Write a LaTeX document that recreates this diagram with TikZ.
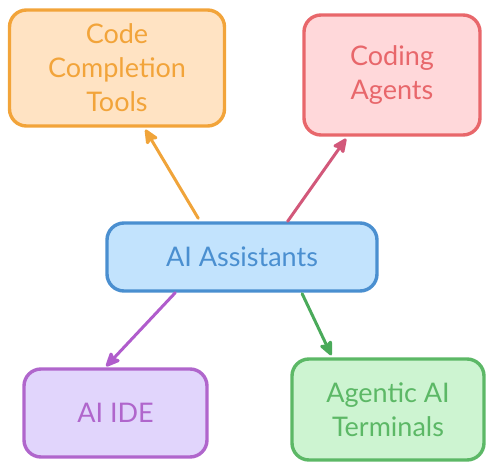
\documentclass[tikz,border=0pt]{standalone}
\usepackage{fontspec}
\setmainfont{Lato}
\usetikzlibrary{arrows.meta,calc}
\definecolor{orS}{HTML}{F2A43A}\definecolor{orF}{HTML}{FFE3C3}
\definecolor{rdS}{HTML}{E8676B}\definecolor{rdF}{HTML}{FFD8DA}
\definecolor{blS}{HTML}{4A8FD0}\definecolor{blF}{HTML}{C2E3FD}
\definecolor{puS}{HTML}{B066CC}\definecolor{puF}{HTML}{E1D5FC}
\definecolor{grS}{HTML}{5CB866}\definecolor{grF}{HTML}{CDF4D1}
\definecolor{orA}{HTML}{F0A43A}\definecolor{rdA}{HTML}{D2587A}
\definecolor{puA}{HTML}{B05CCC}\definecolor{grA}{HTML}{4AAA5A}
\tikzset{
  box/.style={draw, line width=3.4pt, rounded corners=17pt, align=center,
    inner sep=0pt, font=\fontsize{27}{34}\selectfont, text=#1S, draw=#1S, fill=#1F},
  conn/.style={line width=3pt, draw=#1, line cap=round,
    -{Stealth[length=17pt,width=15pt,inset=3pt,round]}, #1}
}
\begin{document}
\begin{tikzpicture}[x=1pt,y=-1pt]
\useasboundingbox (0,0) rectangle (492,470);
\node[box=or, minimum width=215pt, minimum height=116pt] (cct) at (117,68) {Code\\Completion\\Tools};
\node[box=rd, minimum width=176pt, minimum height=120pt] (ca) at (392,75) {Coding\\Agents};
\node[box=bl, minimum width=270pt, minimum height=68pt] (aia) at (242,257) {AI Assistants};
\node[box=pu, minimum width=183pt, minimum height=88pt] (ide) at (115.5,413) {AI IDE};
\node[box=gr, minimum width=192pt, minimum height=101pt] (aat) at (388,409.5) {Agentic AI\\Terminals};
\coordinate (t1) at ($(cct.south west)!0.63!(cct.south east)+(0,2)$);
\coordinate (t2) at ($(ca.south west)!0.244!(ca.south east)+(0,2)$);
\coordinate (t3) at ($(ide.north west)!0.45!(ide.north east)+(0,-1)$);
\coordinate (t4) at ($(aat.north west)!0.21!(aat.north east)+(0,-2)$);
\draw[conn=orA] ($(aia.north west)!0.34!(aia.north east)+(0,-3)$) -- (t1);
\draw[conn=rdA] ($(aia.north west)!0.667!(aia.north east)$) -- (t2);
\draw[conn=puA] ($(aia.south west)!0.256!(aia.south east)$) -- (t3);
\draw[conn=grA] ($(aia.south west)!0.72!(aia.south east)+(0,1)$) -- (t4);
\end{tikzpicture}
\end{document}
